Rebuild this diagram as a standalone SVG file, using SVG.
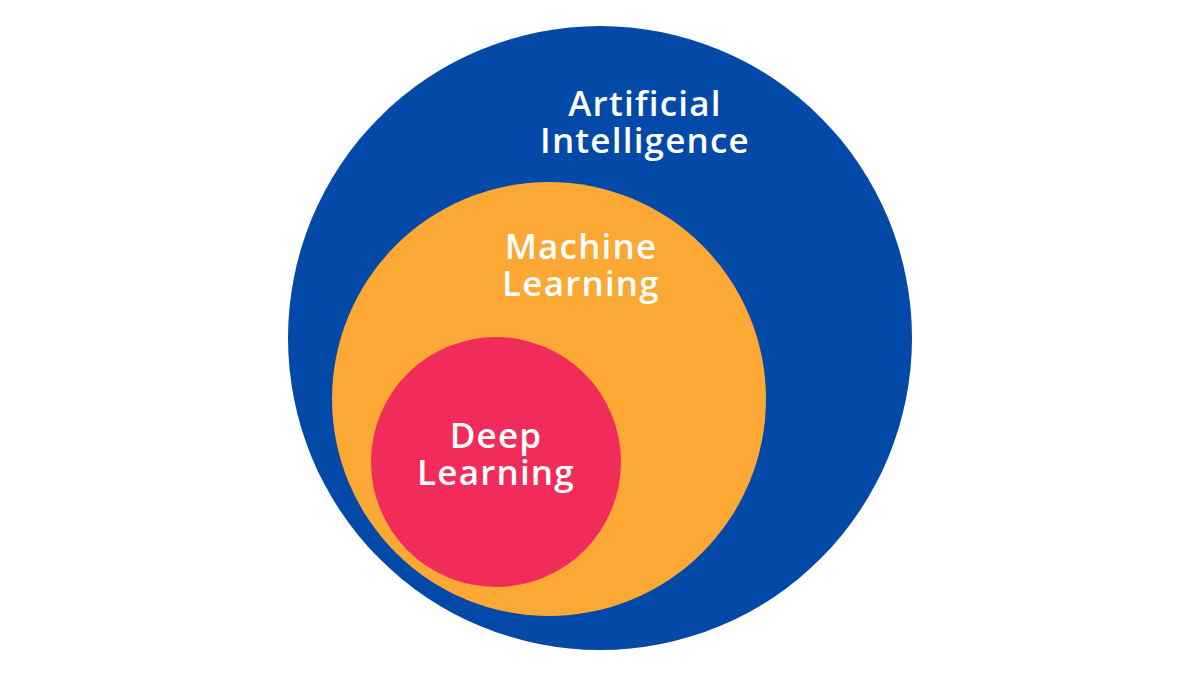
<svg xmlns="http://www.w3.org/2000/svg" width="1200" height="675" viewBox="0 0 1200 675">
<style>
.t{font-family:"Open Sans","DejaVu Sans",sans-serif;font-size:35px;font-weight:600;letter-spacing:1.2px;fill:#fff;text-anchor:middle}
</style>
<rect width="1200" height="675" fill="#fff"/>
<g id="ai"><circle cx="600" cy="338" r="312" fill="#0349A8"/>
<text class="t" x="645" y="116">Artificial</text><text class="t" x="645" y="153">Intelligence</text></g>
<g id="ml"><circle cx="549" cy="399" r="217" fill="#FBA834"/>
<text class="t" x="581" y="259">Machine</text><text class="t" x="581" y="296">Learning</text></g>
<g id="dl"><circle cx="496" cy="462" r="125" fill="#F22C5A"/>
<text class="t" x="496" y="448">Deep</text><text class="t" x="496" y="485">Learning</text></g>
<g id="connectors"/>
</svg>
